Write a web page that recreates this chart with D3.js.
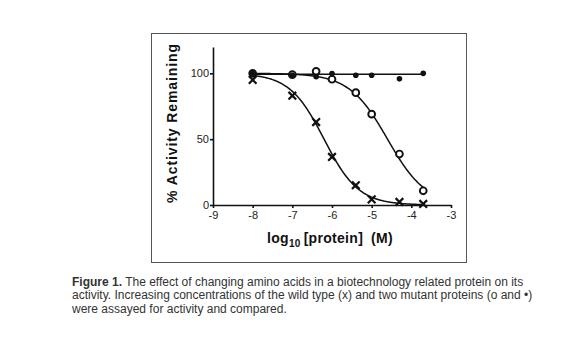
<!DOCTYPE html>
<html>
<head>
<meta charset="utf-8">
<script src="https://cdn.jsdelivr.net/npm/d3@7"></script>
<style>
  html, body { margin: 0; padding: 0; background: #fff; }
  svg { display: block; }
</style>
</head>
<body>
<svg id="chart" width="573" height="337"></svg>
<script>
// ---- data ----
const logConc = [-8, -7, -6.4, -6, -5.4, -5, -4.3, -3.7];
const wildType = [95, 83, 63, 36.5, 15, 4.3, 2.3, 0.8];        // x markers
const mutantOpen = [100, 99, 101.5, 95.5, 85.3, 69, 38.7, 10.8]; // open circles
const mutantFilled = [100, 98.5, 97.5, 99.8, 98.5, 98.5, 95.8, 100]; // filled dots
const xTicks = [-9, -8, -7, -6, -5, -4, -3];
const yTicks = [0, 50, 100];
// fitted sigmoid parameters: [top, bottom, logIC50, hill]
const fitWild = [100, 0, -6.2, 1.0];
const fitOpen = [100, 0, -4.6, 0.9];
const fitFilled = [99.3, 99.3, -5, 1];
const fitRange = [-8, -3.7];

const svg = d3.select("#chart");
const font = "Arial, 'Liberation Sans', Helvetica, sans-serif";

// frame
svg.append("rect").attr("x", 151.5).attr("y", 33.5).attr("width", 315).attr("height", 229)
  .attr("fill", "none").attr("stroke", "#555").attr("stroke-width", 1);

const x = d3.scaleLinear().domain([-9, -3]).range([213, 451]);
const y = d3.scaleLinear().domain([0, 120]).range([205, 47]);

// axes
const xAxis = svg.append("g").attr("transform", "translate(0,205)")
  .call(d3.axisBottom(x).tickValues(xTicks).tickSize(3).tickSizeOuter(0).tickPadding(3)
    .tickFormat(d => d3.format("d")(d).replace("\u2212", "-")));
const yAxis = svg.append("g").attr("transform", "translate(213,0)")
  .call(d3.axisLeft(y).tickValues(yTicks).tickSize(3).tickSizeOuter(0).tickPadding(1));
[xAxis, yAxis].forEach(g => {
  g.select(".domain").attr("stroke", "#111").attr("stroke-width", 1.6);
  g.selectAll(".tick line").attr("stroke", "#111").attr("stroke-width", 1.6);
  g.selectAll(".tick text").attr("fill", "#222").attr("font-size", 11).attr("font-family", font);
});

// axis titles
svg.append("text")
  .attr("transform", "translate(177,123) rotate(-90)")
  .attr("text-anchor", "middle").attr("font-family", font).attr("font-weight", "bold")
  .attr("font-size", 14).attr("letter-spacing", 0.9).attr("fill", "#111")
  .text("% Activity Remaining");

const xt = svg.append("text").attr("x", 330).attr("y", 243)
  .attr("text-anchor", "middle").attr("font-family", font).attr("font-weight", "bold")
  .attr("font-size", 14).attr("letter-spacing", 0.3).attr("fill", "#111");
xt.append("tspan").text("log");
xt.append("tspan").attr("font-size", 10).attr("dy", 4).text("10");
xt.append("tspan").attr("dy", -4).attr("dx", 3).text("[protein]");
xt.append("tspan").attr("dx", 8).text("(M)");

// fitted curves
function sig(p) {
  const [top, bottom, c, h] = p;
  return v => bottom + (top - bottom) / (1 + Math.pow(10, (v - c) * h));
}
const line = d3.line().x(d => x(d[0])).y(d => y(d[1])).curve(d3.curveLinear);
[fitWild, fitOpen, fitFilled].forEach(p => {
  const f = sig(p);
  const pts = d3.range(fitRange[0], fitRange[1] + 0.0001, 0.02).map(v => [v, f(v)]);
  svg.append("path").attr("d", line(pts)).attr("fill", "none")
    .attr("stroke", "#111").attr("stroke-width", 1.5);
});

// markers
const crossSym = d3.symbol().type(d3.symbolX).size(40);
svg.append("g").selectAll("path").data(logConc.map((v, i) => [v, wildType[i]])).join("path")
  .attr("d", crossSym).attr("transform", d => `translate(${x(d[0])},${y(d[1])})`)
  .attr("fill", "none").attr("stroke", "#111").attr("stroke-width", 2.2);

svg.append("g").selectAll("circle").data(logConc.map((v, i) => [v, mutantOpen[i]])).join("circle")
  .attr("cx", d => x(d[0])).attr("cy", d => y(d[1])).attr("r", 3.4)
  .attr("fill", "#fff").attr("stroke", "#111").attr("stroke-width", 1.9);

svg.append("g").selectAll("circle").data(logConc.map((v, i) => [v, mutantFilled[i]])).join("circle")
  .attr("cx", d => x(d[0])).attr("cy", d => y(d[1])).attr("r", 2.8)
  .attr("fill", "#111");

// caption
const lines = [
  [["Figure 1.", true], [" The effect of changing amino acids in a biotechnology related protein on its", false]],
  [["activity. Increasing concentrations of the wild type (x) and two mutant proteins (o and \u2022)", false]],
  [["were assayed for activity and compared.", false]]
];
lines.forEach((ln, i) => {
  const t = svg.append("text").attr("x", 72).attr("y", 285.5 + i * 13.7)
    .attr("font-family", font).attr("font-size", 12).attr("fill", "#333")
    .attr("xml:space", "preserve").style("white-space", "pre");
  ln.forEach(([s, b]) => t.append("tspan").attr("font-weight", b ? "bold" : "normal").text(s));
});
</script>
</body>
</html>
